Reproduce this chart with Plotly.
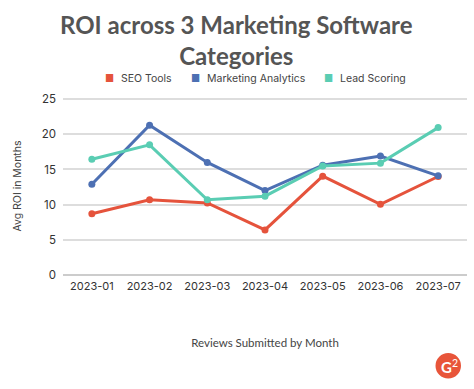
import plotly.graph_objects as go

months = ["2023-01", "2023-02", "2023-03", "2023-04", "2023-05", "2023-06", "2023-07"]
seo_tools = [8.7, 10.7, 10.25, 6.4, 14.05, 10.05, 14.0]
marketing_analytics = [12.9, 21.3, 16.0, 12.0, 15.6, 16.9, 14.1]
lead_scoring = [16.45, 18.5, 10.7, 11.2, 15.5, 15.9, 20.95]

series_names = ["SEO Tools", "Marketing Analytics", "Lead Scoring"]
series_values = [seo_tools, marketing_analytics, lead_scoring]
colors = ["#E5533C", "#4D70B3", "#5ACDB3"]

L, R, T, B = 63, 7, 97, 114
W, H = 474, 389
PW, PH = W - L - R, H - T - B


def px(x):
    return (x - L) / PW


def py(y):
    return (H - B - y) / PH


fig = go.Figure()
for name, vals, col in zip(series_names, series_values, colors):
    fig.add_trace(go.Scatter(
        x=months, y=vals, mode="lines+markers", name=name,
        line=dict(color=col, width=3), marker=dict(color=col, size=7),
        showlegend=False,
    ))

fig.update_layout(
    width=W, height=H,
    paper_bgcolor="white", plot_bgcolor="white",
    margin=dict(l=L, r=R, t=T, b=B, autoexpand=False),
    showlegend=False,
    font=dict(family="Inter", color="#444444"),
    xaxis=dict(
        type="category", range=[-0.5, 6.5],
        showgrid=False, showline=False, zeroline=False,
        tickfont=dict(family="Inter", size=11, color="#333333"),
        ticks="", ticklabelstandoff=3,
        title=dict(text="Reviews Submitted by Month", standoff=46,
                   font=dict(family="Lato", size=11.5, color="#444444")),
    ),
    yaxis=dict(
        range=[0, 25.3], tickvals=[0, 5, 10, 15, 20, 25],
        showgrid=True, gridcolor="#DDDDDD", gridwidth=1.5,
        zeroline=True, zerolinecolor="#CCCCCC", zerolinewidth=2,
        showline=False, ticks="",
        tickfont=dict(family="Inter", size=11.5, color="#333333"),
        ticklabelstandoff=6,
        title=dict(text="Avg ROI in Months", standoff=18,
                   font=dict(family="Inter", size=10.5, color="#444444")),
    ),
)

# Title
fig.add_annotation(text="<b>ROI across 3 Marketing Software<br>Categories</b>",
                   xref="paper", yref="paper", x=px(236), y=py(40),
                   xanchor="center", yanchor="middle", showarrow=False,
                   font=dict(family="Lato", size=24, color="#555555"))

# Legend (square markers + labels)
legend_marker_x = [109, 195, 328]
for name, col, mx in zip(series_names, colors, legend_marker_x):
    fig.add_annotation(text="■", xref="paper", yref="paper", x=px(mx), y=py(78),
                       xanchor="center", yanchor="middle", showarrow=False,
                       font=dict(size=10, color=col))
    fig.add_annotation(text=name, xref="paper", yref="paper", x=px(mx + 10), y=py(78),
                       xanchor="left", yanchor="middle", showarrow=False,
                       font=dict(family="Inter", size=10.5, color="#444444"))

# G2 logo badge
fig.add_shape(type="circle", xref="paper", yref="paper",
              x0=px(435.5), x1=px(461), y0=py(353), y1=py(378.5),
              fillcolor="#E8553A", line=dict(width=0))
fig.add_annotation(text="<b>G</b><sup>2</sup>", xref="paper", yref="paper",
                   x=px(449), y=py(366), xanchor="center", yanchor="middle",
                   showarrow=False, font=dict(family="Lato", size=15, color="white"))

fig.write_html("out.html", config={"displayModeBar": False},
               post_script="document.body.style.margin='0';")
